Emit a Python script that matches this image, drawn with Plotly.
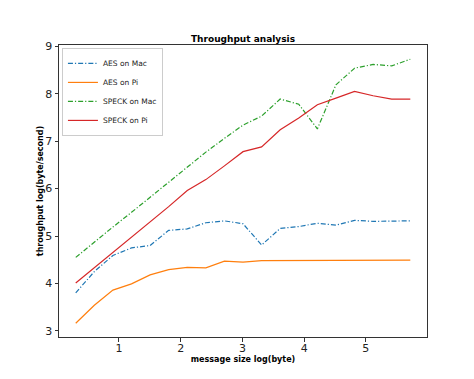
import numpy as np
import plotly.graph_objects as go

# message size exponent k: size = 2**k bytes, x = log10(2**k)
exponents = list(range(1, 20))
x_vals = [k * np.log10(2) for k in exponents]

aes_mac = [3.80, 4.25, 4.59, 4.75, 4.80, 5.12, 5.15, 5.28, 5.32, 5.26, 4.81, 5.16, 5.20,
           5.27, 5.23, 5.33, 5.31, 5.31, 5.32]
aes_pi = [3.16, 3.54, 3.86, 3.99, 4.18, 4.29, 4.34, 4.33, 4.47, 4.45, 4.48, 4.48, 4.49,
          4.49, 4.49, 4.49, 4.49, 4.49, 4.49]
speck_mac = [4.55, 4.88, 5.19, 5.50, 5.82, 6.14, 6.47, 6.77, 7.06, 7.34, 7.53, 7.89, 7.78,
             7.26, 8.19, 8.54, 8.62, 8.59, 8.73]
speck_pi = [4.01, 4.33, 4.65, 4.97, 5.30, 5.62, 5.96, 6.19, 6.48, 6.78, 6.88, 7.24, 7.49,
            7.77, 7.91, 8.05, 7.96, 7.89, 7.89]

series = [
    ("AES on Mac", aes_mac, "#1f77b4", "5px,2px,1.2px,2px"),
    ("AES on Pi", aes_pi, "#ff7f0e", "solid"),
    ("SPECK on Mac", speck_mac, "#2ca02c", "5px,2px,1.2px,2px"),
    ("SPECK on Pi", speck_pi, "#d62728", "solid"),
]

fig = go.Figure()
for name, ys, color, dash in series:
    fig.add_trace(go.Scatter(x=x_vals, y=ys, mode="lines", name=name,
                             line=dict(color=color, width=1.2, dash=dash)))

axis_common = dict(showgrid=False, zeroline=False, showline=True, linecolor="#333",
                   linewidth=1, mirror=True, ticks="outside", ticklen=3.5, tickcolor="#333",
                   automargin=False,
                   tickfont=dict(family="DejaVu Sans", size=11, color="#222"))

fig.update_layout(
    width=474, height=379,
    margin=dict(l=59, r=47, t=45, b=42, autoexpand=False),
    paper_bgcolor="white", plot_bgcolor="white",
    title=dict(text="<b>Throughput analysis</b>", x=0.5, xanchor="center",
               xref="paper", yref="paper", y=1.0, yanchor="bottom",
               pad=dict(b=3),
               font=dict(family="DejaVu Sans", size=9, color="black")),
    xaxis=dict(range=[0.03, 5.99], tickvals=[1, 2, 3, 4, 5], ticklabelstandoff=-3,
               title=dict(text="<b>message size log(byte)</b>", standoff=0,
                          font=dict(family="DejaVu Sans", size=8, color="black")),
               **axis_common),
    yaxis=dict(range=[2.87, 9.03], tickvals=[3, 4, 5, 6, 7, 8, 9],
               title=dict(text="<b>throughput log(byte/second)</b>", standoff=0,
                          font=dict(family="DejaVu Sans", size=8, color="black")),
               **axis_common),
    legend=dict(x=0.008, y=0.99, xanchor="left", yanchor="top",
                bgcolor="rgba(255,255,255,0.8)", bordercolor="#ccc", borderwidth=1,
                font=dict(family="DejaVu Sans", size=7.5, color="#222"),
                itemwidth=30, tracegroupgap=0),
    showlegend=True,
)

fig.write_html("out.html", config={"displayModeBar": False},
               post_script="document.body.style.margin='0px';document.body.style.padding='0px';")
